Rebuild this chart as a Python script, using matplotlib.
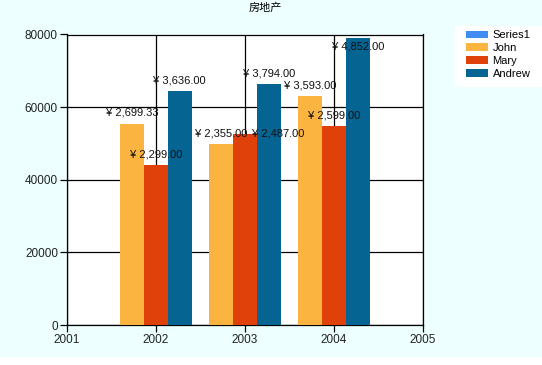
import matplotlib
matplotlib.use("Agg")
import matplotlib.pyplot as plt
from matplotlib.patches import Patch, Rectangle
import numpy as np

plt.rcParams['font.family'] = ['Liberation Sans', 'Noto Sans CJK SC', 'DejaVu Sans']

title = "房地产"
years = [2002, 2003, 2004]
series_names = ["Series1", "John", "Mary", "Andrew"]
colors = ["#418CF0", "#FCB441", "#E0400A", "#056492"]
john = [55450, 49760, 62950]
mary = [44000, 52700, 54700]
andrew = [64400, 66250, 79100]
john_labels = ["¥ 2,699.33", "¥ 2,355.00", "¥ 3,593.00"]
mary_labels = ["¥ 2,299.00", "¥ 2,487.00", "¥ 2,599.00"]
andrew_labels = ["¥ 3,636.00", "¥ 3,794.00", "¥ 4,852.00"]
xticks = [2001, 2002, 2003, 2004, 2005]
yticks = [0, 20000, 40000, 60000, 80000]

W, H = 542, 365
fig = plt.figure(figsize=(W / 100, H / 100), dpi=100)
fig.patch.set_facecolor("#EEFFFF")
fig.patches.append(Rectangle((0, 0), 1, 8 / H, transform=fig.transFigure,
                             facecolor="white", edgecolor="none", zorder=0))
ax = fig.add_axes([67 / W, 1 - 325 / H, (423 - 67) / W, (325 - 34.5) / H])
ax.set_facecolor("white")

x = np.array(years, dtype=float)
bw = 0.8 / 3
data = [(john, john_labels, colors[1]), (mary, mary_labels, colors[2]),
        (andrew, andrew_labels, colors[3])]
for i, (vals, labs, c) in enumerate(data):
    pos = x + (i - 1) * bw
    ax.bar(pos, vals, width=bw, color=c, zorder=3)
    for j, (px, v, lab) in enumerate(zip(pos, vals, labs)):
        if v > 75000:
            tx, ty = px, v - 2500
        elif i == 1 and j == 1:
            # smart-label moved to avoid overlap with neighbour
            tx, ty = px + 0.37, v
        else:
            tx, ty = px, v + 3000
        ax.text(tx, ty, lab, ha="center", va="center", fontsize=8,
                color="#111111", zorder=4)

ax.set_xlim(2001, 2005)
ax.set_ylim(0, 80000)
ax.set_xticks(xticks)
ax.set_yticks(yticks)
ax.set_xticklabels([str(t) for t in xticks])
ax.set_yticklabels([str(t) for t in yticks])
ax.grid(True, color="black", linewidth=0.9, zorder=1)
ax.set_axisbelow(True)
for s in ax.spines.values():
    s.set_color("black")
    s.set_linewidth(0.9)
ax.tick_params(axis="both", length=5, width=0.9, color="black",
               labelsize=8.5, labelcolor="#222222", pad=1.5)

fig.text(265 / W, 1 - 8 / H, title, ha="center", va="center", fontsize=8,
         family=['Noto Sans CJK SC', 'DejaVu Sans'])

fig.patches.append(Rectangle((455 / W, 1 - 87 / H), (W - 455) / W, 61 / H,
                             transform=fig.transFigure, facecolor="white",
                             edgecolor="none", zorder=0))
handles = [Patch(facecolor=c, edgecolor="none") for c in colors]
leg = fig.legend(handles, series_names, loc="upper left",
                 bbox_to_anchor=(462 / W, 1 - 26 / H), borderaxespad=0,
                 fontsize=8, frameon=False,
                 handlelength=1.9, handleheight=0.7, handletextpad=0.45,
                 labelspacing=0.25, borderpad=0.4)

fig.savefig("out.png", dpi=100, facecolor=fig.get_facecolor())
